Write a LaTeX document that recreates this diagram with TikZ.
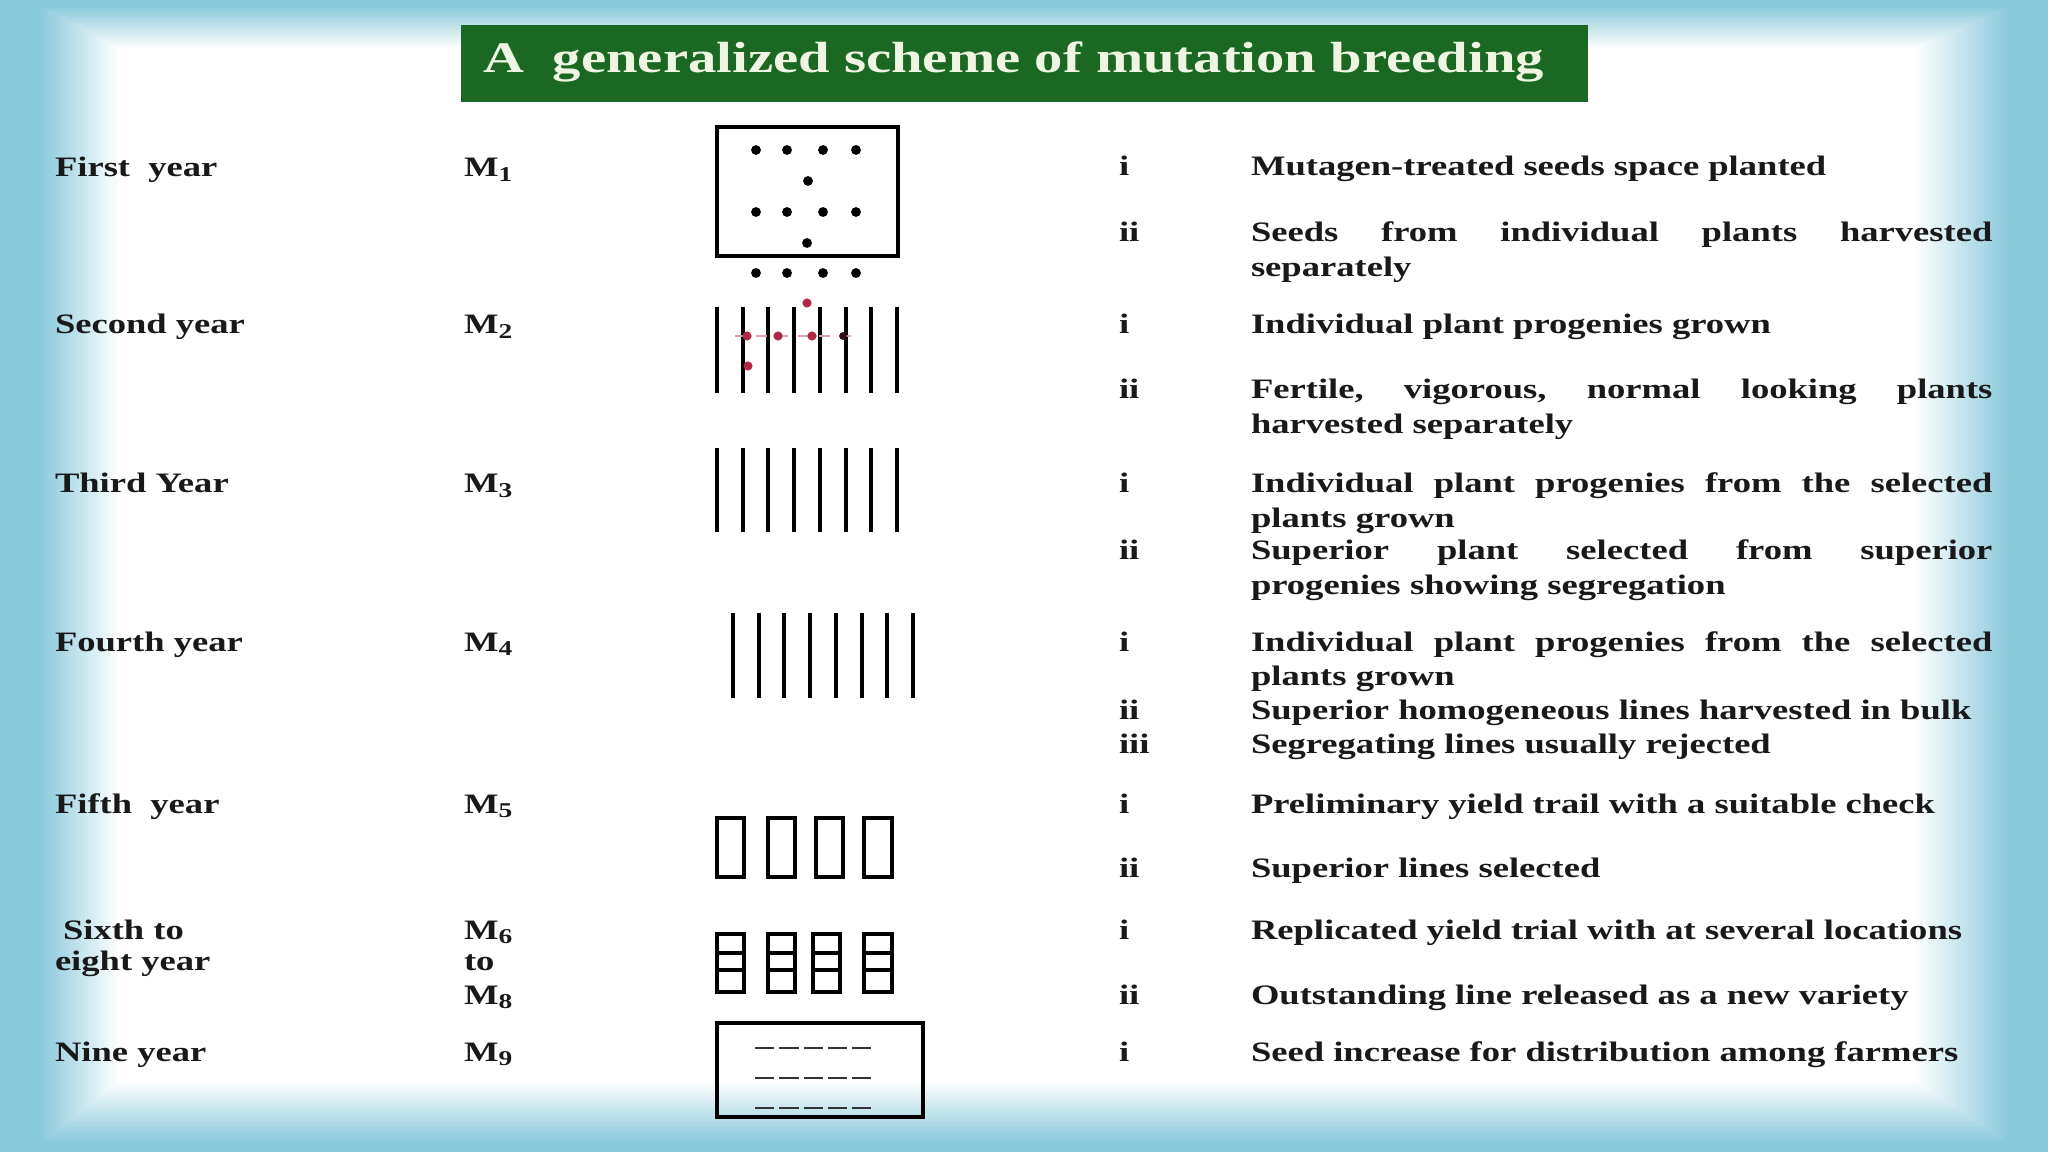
\documentclass[tikz,border=0pt]{standalone}
\usepackage{fontspec}
\setmainfont{Liberation Serif}[FakeStretch=1.3]
\definecolor{frameblue}{RGB}{136,201,218}
\definecolor{titlegreen}{RGB}{26,104,34}
\definecolor{titletext}{RGB}{238,246,226}
\definecolor{txt}{RGB}{25,25,25}
\definecolor{seedred}{RGB}{175,40,70}
\newcommand\bodyfont{\fontsize{8}{9.67}\selectfont\bfseries}
\newcommand\headfont{\fontsize{12.4}{14}\selectfont\bfseries}
\newcommand\jline[1]{\hbox to 7.41cm{#1}}
\begin{document}
\begin{tikzpicture}[x=0.01cm,y=-0.01cm,
  lbl/.style={anchor=base west, inner sep=0pt, outer sep=0pt, font=\bodyfont, text=txt},
  para/.style={lbl, text width=7.41cm, align=left},
  fig/.style={draw=black, line width=1pt},
  seed/.style={fill=black},
  rseed/.style={fill=seedred}]
\useasboundingbox (0,0) rectangle (2048,1152);
% background frame
\fill[frameblue] (0,0) rectangle (2048,1152);
\foreach \i in {0,...,24}{
  \pgfmathsetmacro\t{\i/24}
  \pgfmathsetmacro\p{100*\t}
  \fill[white!\p!frameblue] (38+80*\t, 6+42*\t) rectangle (2012-95*\t, 1144-62*\t);
}
% title
\node[fill=titlegreen, minimum width=11.27cm, minimum height=0.77cm, inner sep=0pt, anchor=north west] (bar) at (460,24) {};
\node[anchor=west, inner sep=0pt, text=titletext, font=\headfont] (title) at (483,62) {A\ \ generalized scheme of mutation breeding};

% year labels
\node[lbl] (y1) at (55,177) {First\ \ year};
\node[lbl] (y2) at (55,334) {Second year};
\node[lbl] (y3) at (55,493) {Third Year};
\node[lbl] (y4) at (55,651) {Fourth year};
\node[lbl] (y5) at (55,813) {Fifth\ \ year};
\node[lbl] (y6a) at (63,939) {Sixth to};
\node[lbl] (y6b) at (55,970) {eight year};
\node[lbl] (y9) at (55,1061) {Nine year};

% generations
\node[lbl] (m1) at (464,177) {M\textsubscript{1}};
\node[lbl] (m2) at (464,334) {M\textsubscript{2}};
\node[lbl] (m3) at (464,493) {M\textsubscript{3}};
\node[lbl] (m4) at (464,651) {M\textsubscript{4}};
\node[lbl] (m5) at (464,813) {M\textsubscript{5}};
\node[lbl] (m6) at (464,939) {M\textsubscript{6}};
\node[lbl] (mto) at (464,970) {to};
\node[lbl] (m8) at (464,1004) {M\textsubscript{8}};
\node[lbl] (m9) at (464,1061) {M\textsubscript{9}};

% numerals and descriptions
\node[lbl] (n1a) at (1119,176) {i};
\node[lbl] (d1a) at (1251,176) {Mutagen-treated seeds space planted};
\node[lbl] (n1b) at (1119,242) {ii};
\node[para] (d1b) at (1251,242) {\jline{Seeds\hfill from\hfill individual\hfill plants\hfill harvested}\\separately};

\node[lbl] (n2a) at (1119,334) {i};
\node[lbl] (d2a) at (1251,334) {Individual plant progenies grown};
\node[lbl] (n2b) at (1119,399) {ii};
\node[para] (d2b) at (1251,399) {\jline{Fertile,\hfill vigorous,\hfill normal\hfill looking\hfill plants}\\harvested separately};

\node[lbl] (n3a) at (1119,493) {i};
\node[para] (d3a) at (1251,493) {\jline{Individual\hfill plant\hfill progenies\hfill from\hfill the\hfill selected}\\plants grown};
\node[lbl] (n3b) at (1119,560) {ii};
\node[para] (d3b) at (1251,560) {\jline{Superior\hfill plant\hfill selected\hfill from\hfill superior}\\progenies showing segregation};

\node[lbl] (n4a) at (1119,651) {i};
\node[para] (d4a) at (1251,651) {\jline{Individual\hfill plant\hfill progenies\hfill from\hfill the\hfill selected}\\plants grown};
\node[lbl] (n4b) at (1119,719) {ii};
\node[lbl] (d4b) at (1251,719) {Superior homogeneous lines harvested in bulk};
\node[lbl] (n4c) at (1119,753) {iii};
\node[lbl] (d4c) at (1251,753) {Segregating lines usually rejected};

\node[lbl] (n5a) at (1119,813) {i};
\node[lbl] (d5a) at (1251,813) {Preliminary yield trail with a suitable check};
\node[lbl] (n5b) at (1119,877) {ii};
\node[lbl] (d5b) at (1251,877) {Superior lines selected};

\node[lbl] (n6a) at (1119,939) {i};
\node[lbl] (d6a) at (1251,939) {Replicated yield trial with at several locations};
\node[lbl] (n6b) at (1119,1004) {ii};
\node[lbl] (d6b) at (1251,1004) {Outstanding line released as a new variety};

\node[lbl] (n9a) at (1119,1061) {i};
\node[lbl] (d9a) at (1251,1061) {Seed increase for distribution among farmers};

% M1 figure
\draw[fig] (717,127) rectangle (898,256);
\foreach \x in {756,787,823,856}{
  \fill[seed] (\x,150) circle[radius=1.4pt];
  \fill[seed] (\x,212) circle[radius=1.4pt];
  \fill[seed] (\x,273) circle[radius=1.4pt];
}
\fill[seed] (808,181) circle[radius=1.4pt];
\fill[seed] (807,243) circle[radius=1.4pt];

% M2 figure
\foreach \x in {717,743,768,794,820,846,871,897}{
  \draw[fig] (\x,307) -- (\x,393);
}
\draw[seedred!45!white, dashed, line width=0.5pt] (735,336) -- (856,336);
\fill[rseed] (807,303) circle[radius=1.3pt];
\fill[rseed] (747,336) circle[radius=1.3pt];
\fill[rseed] (778,336) circle[radius=1.3pt];
\fill[rseed] (812,336) circle[radius=1.3pt];
\fill[black!70!seedred] (843,336) circle[radius=1.1pt];
\fill[rseed] (748,366) circle[radius=1.3pt];

% M3 figure
\foreach \x in {717,743,768,794,820,846,871,897}{
  \draw[fig] (\x,448) -- (\x,532);
}
% M4 figure
\foreach \x in {733,759,784,810,836,862,887,913}{
  \draw[fig] (\x,613) -- (\x,698);
}
% M5 figure
\foreach \a/\b in {717/744,768/795,816/843,864/892}{
  \draw[fig] (\a,818) rectangle (\b,877);
}
% M6-M8 figure
\foreach \a/\b in {717/744,768/795,813/840,864/892}{
  \draw[fig] (\a,934) rectangle (\b,992);
  \draw[fig] (\a,953) -- (\b,953);
  \draw[fig] (\a,970) -- (\b,970);
}
% M9 figure
\draw[fig] (717,1023) rectangle (923,1117);
\foreach \y in {1048,1078,1108}{
  \draw[black!80, line width=0.75pt, dash pattern=on 5.5pt off 1.4pt] (755,\y) -- (873,\y);
}
\end{tikzpicture}
\end{document}
